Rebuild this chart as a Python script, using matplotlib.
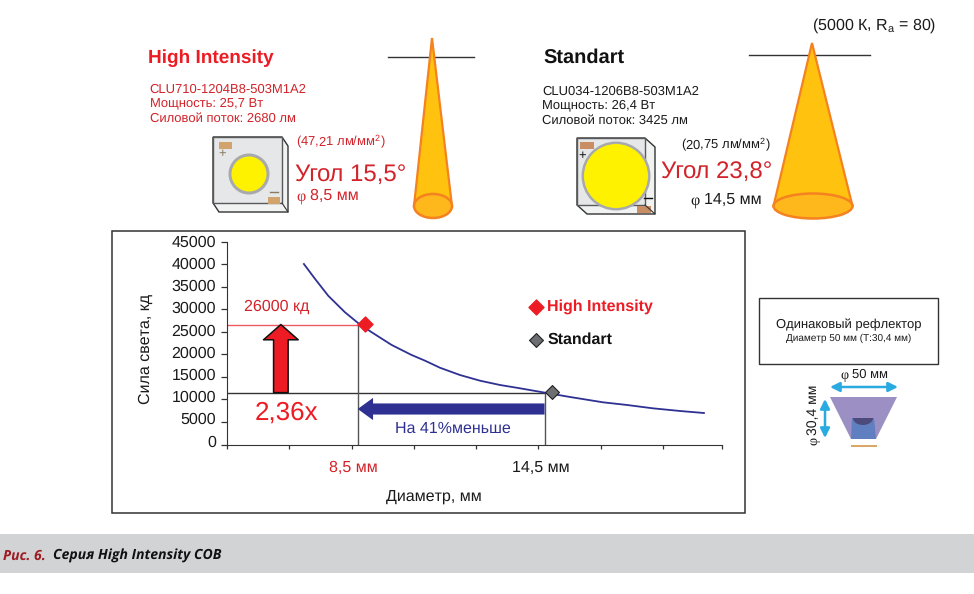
import matplotlib
matplotlib.use('Agg')
import matplotlib.pyplot as plt
from matplotlib.patches import Rectangle, Circle, Ellipse, Polygon
from matplotlib.transforms import ScaledTranslation

plt.rcParams['font.family'] = ['Liberation Sans', 'DejaVu Sans']
plt.rcParams['mathtext.default'] = 'regular'
plt.rcParams['text.hinting'] = 'no_hinting'
plt.rcParams['text.hinting_factor'] = 1

W, H = 974, 594

# Chart data
diam_mm = [6.77, 7.13, 7.55, 8.09, 8.52, 8.95, 9.59, 10.23, 10.66, 11.14, 11.78,
           12.43, 13.07, 13.71, 14.52, 15.32, 16.38, 17.15, 17.98, 18.85, 19.62]
intensity = [40010, 36690, 32985, 29305, 26870, 24870, 22060, 19840, 18580, 17020, 15410,
             14140, 13190, 12460, 11480, 10530, 9350, 8760, 8020, 7430, 6980]
y_ticks = [0, 5000, 10000, 15000, 20000, 25000, 30000, 35000, 40000, 45000]
x_ticks = [4.3, 6.3, 8.3, 10.3, 12.3, 14.3, 16.3, 18.3, 20.2]
hi_point = (8.73, 26640)
std_point = (14.73, 11560)
hi_level = 26600
std_level = 11500
hi_diam = 8.5
std_diam = 14.5

RED = '#ed1c24'
TXT_RED = '#d2232a'
NAVY = '#2e3192'
ORANGE = '#f58220'
AMBER = '#ffc20e'
CYAN = '#29abe2'

fig = plt.figure(figsize=(W / 100, H / 100), dpi=100, facecolor='white')

# overlay in pixel coords for the illustration parts
bg = fig.add_axes([0, 0, 1, 1])
bg.set_xlim(0, W)
bg.set_ylim(H, 0)
bg.axis('off')


def label(x, y, s, size=9, color='#1a1a1a', ha='left', va='center', **kw):
    bg.text(x, y, s, fontsize=size, color=color, ha=ha, va=va, **kw)


def cone(apex_x, apex_y, cx, cy, w, h, line_x0, line_x1, line_y):
    bg.plot([line_x0, line_x1], [line_y, line_y], color='#333333', lw=1, zorder=1)
    bg.add_patch(Polygon([(apex_x, apex_y), (cx - w / 2, cy), (cx + w / 2, cy)],
                         fc=AMBER, ec=ORANGE, lw=1.6, zorder=2))
    bg.add_patch(Ellipse((cx, cy), w, h, fc='#ffb81c', ec=ORANGE, lw=1.8, zorder=3))


def chip(x0, y0, x1, y1, dx, dy, cx, cy, r_out, r_in, pads, plus, minus):
    bg.add_patch(Polygon([(x0, y0), (x1, y0), (x1 + dx, y0 + dy), (x1 + dx, y1 + dy),
                          (x0 + dx, y1 + dy), (x0, y1)], fc='#f1f2f2', ec='#333333', lw=1))
    bg.add_patch(Rectangle((x0, y0), x1 - x0, y1 - y0, fc='#e6e7e8', ec='#58595b', lw=1))
    bg.plot([x1, x1 + dx], [y1, y1 + dy], color='#333333', lw=0.8)
    bg.add_patch(Circle((cx, cy), r_out, fc='#a7a9ac', ec='none'))
    bg.add_patch(Circle((cx, cy), r_in, fc='#fff200', ec='none'))
    for px, py, pw, ph, col in pads:
        bg.add_patch(Rectangle((px - pw / 2, py - ph / 2), pw, ph, fc=col, ec='none'))
    label(plus[0], plus[1], '+', size=9, ha='center', color=plus[2])
    bg.plot([minus[0] - 4, minus[0] + 4], [minus[1], minus[1]], color=minus[2], lw=1)


# left block
label(148, 58, 'High Intensity', size=13.8, color=RED, fontweight='bold')
label(149.5, 89.5, 'CLU710-1204B8-503M1A2', size=9.1, color=TXT_RED)
label(150, 103.5, 'Мощность: 25,7 Вт', size=9.1, color=TXT_RED)
label(150, 118.5, 'Силовой поток: 2680 лм', size=9.1, color=TXT_RED)
label(296, 141, '(47,21 лм/мм$^2$)', size=9.2, color=TXT_RED)
label(295, 175, 'Угол 15,5°', size=17.6, color=TXT_RED)
label(296, 197, 'φ', size=11.5, color=TXT_RED, family='Liberation Serif')
label(310, 196, '8,5 мм', size=11.5, color=TXT_RED)
chip(213, 137, 282, 203, 6, 9, 249, 174, 20.5, 17.5,
     [(225, 145, 13, 7, '#d2a36c'), (274, 200, 12, 7, '#d2a36c')],
     (222, 154, '#8a7a60'), (274, 192, '#8a7a60'))
cone(432, 38, 433, 206, 38, 24, 388, 474, 57)

# right block
label(543, 57.5, 'Standart', size=14.3, color='#111111', fontweight='bold')
label(542, 91.5, 'CLU034-1206B8-503M1A2', size=9.1)
label(542, 105.5, 'Мощность: 26,4 Вт', size=9.1)
label(542, 120.5, 'Силовой поток: 3425 лм', size=9.1)
label(681, 144, '(20,75 лм/мм$^2$)', size=9.2)
label(661, 172, 'Угол 23,8°', size=17.6, color=TXT_RED)
label(690, 201, 'φ', size=11.5, family='Liberation Serif')
label(704, 200, '14,5 мм', size=11.5)
label(812, 26, '(5000 К, R$_a$ = 80)', size=11.7)
chip(577, 138, 645, 205, 10, 9, 616, 176, 34.5, 32,
     [(587, 145, 14, 7, '#c98e63'), (644, 209, 14, 7, '#c98e63')],
     (582, 156, '#111111'), (648, 198, '#111111'))
cone(812, 43, 813, 206, 79, 25, 749, 870, 55)

# chart frame
bg.add_patch(Rectangle((112, 231), 633, 282, fc='white', ec='#333333', lw=1.1, zorder=0))

# reflector box
bg.add_patch(Rectangle((759, 298), 179, 66, fc='white', ec='#333333', lw=1))
label(849, 325, 'Одинаковый рефлектор', size=9.4, ha='center')
label(849, 338, 'Диаметр 50 мм (Т:30,4 мм)', size=6.9, ha='center')
label(840, 376, 'φ', size=10, family='Liberation Serif')
label(852, 375, '50 мм', size=9.3)
label(814, 441, 'φ', size=10, rotation=90, ha='center', family='Liberation Serif')
label(814, 410, '30,4 мм', size=9.8, rotation=90, ha='center')
bg.add_patch(Polygon([(830, 397), (897, 397), (876, 439), (851, 439)], fc='#9b8fc4', ec='none'))
bg.add_patch(Polygon([(852, 418), (874, 418), (876, 439), (851, 439)], fc='#5f7fc0', ec='none'))
dome = Ellipse((863, 418), 20, 14, fc='#4d4a7c', ec='none')
bg.add_patch(dome)
dome.set_clip_path(Rectangle((850, 418), 26, 8, transform=bg.transData))
bg.add_patch(Rectangle((851, 445), 26, 2, fc='#d9a866', ec='none'))
bg.annotate('', xy=(830, 387), xytext=(898, 387),
            arrowprops=dict(arrowstyle='<|-|>', color=CYAN, lw=1.8, mutation_scale=14, shrinkA=0, shrinkB=0))
bg.annotate('', xy=(825, 399), xytext=(825, 438),
            arrowprops=dict(arrowstyle='<|-|>', color=CYAN, lw=1.8, mutation_scale=14, shrinkA=0, shrinkB=0))

# caption band
bg.add_patch(Rectangle((0, 534), W, 39, fc='#d1d3d4', ec='none'))
label(3, 556, 'Рис. 6.', size=10, color='#9e1b22', fontweight='bold', style='italic', family='Open Sans')
label(53, 556, 'Серия High Intensity COB', size=9.8, color='#111111', fontweight='bold',
      style='italic', family='Open Sans')

# the chart itself
ax = fig.add_axes([227 / W, 1 - 444.5 / H, (722 - 227) / W, (444.5 - 241.5) / H])
ax.patch.set_alpha(0)
ax.set_xlim(4.3, 20.2)
ax.set_ylim(0, 45000)
for side in ('top', 'right'):
    ax.spines[side].set_visible(False)
ax.spines['left'].set_color('#333333')
ax.spines['bottom'].set_color('#333333')
ax.set_yticks(y_ticks)
ax.set_xticks(x_ticks)
ax.set_xticklabels([])
ax.tick_params(axis='y', labelsize=11.8, length=4, width=0.9, color='#333333', labelcolor='#1a1a1a', pad=4)
ax.tick_params(axis='x', length=3, width=0.9, color='#333333')

# tick labels in the original sit a bit tighter than the ticks
for i, lab in enumerate(ax.get_yticklabels()):
    shift = ScaledTranslation(0, (0.7 + 3.2 * (1 - i / 9)) / 100, fig.dpi_scale_trans)
    lab.set_transform(lab.get_transform() + shift)

ax.plot(diam_mm, intensity, color=NAVY, lw=1.3, zorder=3)

ax.plot([4.3, hi_diam], [hi_level, hi_level], color='#ef5a60', lw=1, zorder=2)
ax.plot([4.3, std_diam], [std_level, std_level], color='#333333', lw=1, zorder=2)
ax.plot([hi_diam, hi_diam], [0, hi_level], color='#555555', lw=1, zorder=2)
ax.plot([std_diam, std_diam], [0, std_level], color='#555555', lw=1, zorder=2)

hi = ax.scatter(*hi_point, marker='D', s=58, color=RED, zorder=5, label='High Intensity')
std = ax.scatter(*std_point, marker='D', s=50, color='#6d6e71', edgecolor='#222222', lw=0.8,
                 zorder=5, label='Standart')

# up arrow, gain in intensity
ax.annotate('', xy=(6.03, hi_level), xytext=(6.03, std_level),
            arrowprops=dict(width=10.5, headwidth=25, headlength=11, shrink=0,
                            facecolor=RED, edgecolor='#111111', lw=1.1))
# left arrow, smaller diameter
ax.annotate('', xy=(hi_diam, 7870), xytext=(std_diam, 7870),
            arrowprops=dict(width=8, headwidth=16, headlength=11, shrink=0,
                            facecolor=NAVY, edgecolor=NAVY, lw=0))

leg = ax.legend(handles=[hi, std], loc='upper left', bbox_to_anchor=(0.565, 0.785), frameon=False,
                prop={'weight': 'bold', 'size': 11.3}, labelspacing=1.15, handletextpad=-0.3,
                labelcolor=[RED, '#111111'], scatterpoints=1)

label(277, 307, '26000 кд', size=11.2, color=TXT_RED, ha='center')
label(286, 413, '2,36x', size=18.5, color=RED, ha='center')
label(453, 429, 'На 41%меньше', size=11.4, color=NAVY, ha='center')
label(353, 468, '8,5 мм', size=11.2, color=TXT_RED, ha='center')
label(541, 468, '14,5 мм', size=11.2, ha='center')
label(434, 497, 'Диаметр, мм', size=11.6, ha='center')
label(146, 349, 'Сила света, кд', size=11.3, ha='center', rotation=90)

fig.savefig('out.png', dpi=100)
